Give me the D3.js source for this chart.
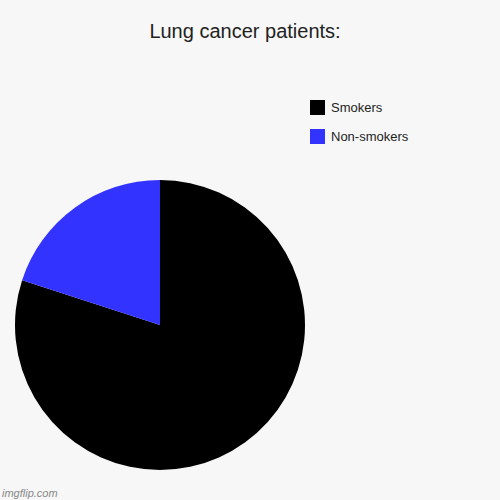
<!DOCTYPE html>
<html><head><meta charset="utf-8">
<script src="https://cdn.jsdelivr.net/npm/d3@7"></script>
<style>body{margin:0;background:#f7f7f7}</style>
</head><body>
<svg id="chart" width="500" height="500"></svg>
<script>
var labels = ["Smokers", "Non-smokers"];
var values = [80, 20];
var colors = ["#000000", "#3333ff"];

var svg = d3.select("#chart");
svg.append("rect").attr("width", 500).attr("height", 500).attr("fill", "#f7f7f7");

svg.append("text").attr("x", 245).attr("y", 38).attr("text-anchor", "middle")
    .style("font", "20px 'Liberation Sans', Arial, sans-serif").attr("fill", "#222")
    .text("Lung cancer patients:");

var pie = d3.pie().sort(null)(values);
var arc = d3.arc().innerRadius(0).outerRadius(145);
svg.append("g").attr("transform", "translate(160,325)")
    .selectAll("path").data(pie).enter().append("path")
    .attr("d", arc).attr("fill", function (d, i) { return colors[i]; });

var legend = svg.selectAll("g.leg").data(labels).enter().append("g")
    .attr("transform", function (d, i) { return "translate(310," + (100 + i * 29) + ")"; });
legend.append("rect").attr("width", 15).attr("height", 15)
    .attr("fill", function (d, i) { return colors[i]; });
legend.append("text").attr("x", 21).attr("y", 12)
    .style("font", "13px 'Liberation Sans', Arial, sans-serif").attr("fill", "#222")
    .text(function (d) { return d; });

svg.append("text").attr("x", 2).attr("y", 497)
    .style("font", "italic 11px 'Liberation Sans', Arial, sans-serif").attr("fill", "#888")
    .text("imgflip.com");
</script>
</body></html>
